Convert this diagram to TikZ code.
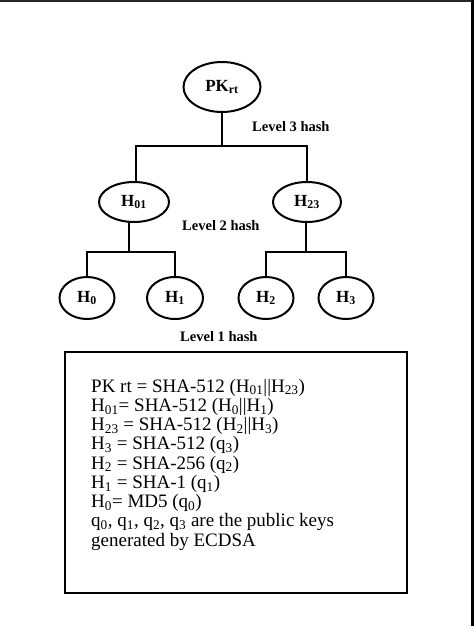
\documentclass[tikz,border=0pt]{standalone}
\usepackage{fontspec}
\setmainfont{Liberation Serif}
\usetikzlibrary{shapes.geometric}
\begin{document}
\begin{tikzpicture}[x=1pt,y=-1pt,
  hashnode/.style={draw,ellipse,line width=2pt,inner sep=0pt,font=\fontsize{17}{19}\selectfont\bfseries},
  conn/.style={line width=2pt},
  lvl/.style={font=\fontsize{14.5}{16}\selectfont\bfseries,inner sep=0pt},
  boxline/.style={anchor=base west,inner sep=0pt,font=\fontsize{19}{19}\selectfont}]
\useasboundingbox (0,0) rectangle (474,626);
\fill[black!85] (0,0) rectangle (474,2);
\fill[black] (471,0) rectangle (474,626);
% tree
\node[hashnode,minimum width=77pt,minimum height=50pt] (pk) at (222,87) {PK\textsubscript{rt}};
\node[hashnode,minimum width=70pt,minimum height=40pt] (h01) at (134,202) {H\textsubscript{01}};
\node[hashnode,minimum width=68pt,minimum height=40pt] (h23) at (307,202) {H\textsubscript{23}};
\node[hashnode,minimum width=55pt,minimum height=42pt] (h0) at (87,298) {H\textsubscript{0}};
\node[hashnode,minimum width=56pt,minimum height=42pt] (h1) at (175,298) {H\textsubscript{1}};
\node[hashnode,minimum width=55pt,minimum height=42pt] (h2) at (266,298) {H\textsubscript{2}};
\node[hashnode,minimum width=55pt,minimum height=42pt] (h3) at (346,298) {H\textsubscript{3}};
\coordinate (j3) at (222,146);
\coordinate (j2a) at (129,252);
\coordinate (j2b) at (306,252);
\draw[conn] (pk.south) -- (j3);
\draw[conn] (h01.north -| 136,0) |- (j3) -| (h23.north);
\draw[conn] (j2a |- h01.south) -- (j2a);
\draw[conn] (h0.north) |- (j2a) -| (h1.north);
\draw[conn] (j2b |- h23.south) -- (j2b);
\draw[conn] (h2.north) |- (j2b) -| (h3.north);
\node[lvl,anchor=west] (l3) at (252,127) {Level 3 hash};
\node[lvl,anchor=west] (l2) at (182,226) {Level 2 hash};
\node[lvl,anchor=west] (l1) at (180,337) {Level 1 hash};
% legend box
\node[draw,line width=1.2pt,minimum width=342pt,minimum height=241pt,inner sep=0pt] (box) at (236,472.5) {};
\node[boxline] (t1) at (91,392) {PK rt = SHA-512 (H\textsubscript{01}||H\textsubscript{23})};
\node[boxline] (t2) at (91,411.25) {H\textsubscript{01}= SHA-512 (H\textsubscript{0}||H\textsubscript{1})};
\node[boxline] (t3) at (91,430.5) {H\textsubscript{23} = SHA-512 (H\textsubscript{2}||H\textsubscript{3})};
\node[boxline] (t4) at (91,449.75) {H\textsubscript{3} = SHA-512 (q\textsubscript{3})};
\node[boxline] (t5) at (91,469) {H\textsubscript{2} = SHA-256 (q\textsubscript{2})};
\node[boxline] (t6) at (91,488.25) {H\textsubscript{1} = SHA-1 (q\textsubscript{1})};
\node[boxline] (t7) at (91,507.5) {H\textsubscript{0}= MD5 (q\textsubscript{0})};
\node[boxline] (t8) at (91,526.75) {q\textsubscript{0}, q\textsubscript{1}, q\textsubscript{2}, q\textsubscript{3} are the public keys};
\node[boxline] (t9) at (91,546) {generated by ECDSA};
\end{tikzpicture}
\end{document}
